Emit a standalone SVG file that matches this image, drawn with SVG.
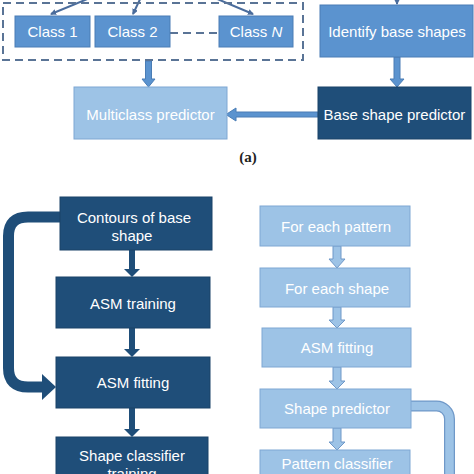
<svg xmlns="http://www.w3.org/2000/svg" width="474" height="474" viewBox="0 0 474 474">
<style>
.t{font-family:"Liberation Sans",Arial,sans-serif;font-size:15px;fill:#ffffff;text-anchor:middle}
.mid{fill:#5b93cf;stroke:#4a7db5;stroke-width:1}
.dark{fill:#1f4e79;stroke:#1a4268;stroke-width:1}
.light{fill:#9dc3e6;stroke:#7fa7d3;stroke-width:1}
.la{fill:#9dc3e6;stroke:#6f98c8;stroke-width:1}
.ma{fill:#5b93cf;stroke:#4a7db5;stroke-width:1}
.da{fill:#1f4e79}
</style>
<defs>
<marker id="sm" markerWidth="6" markerHeight="6" refX="5" refY="3" orient="auto" markerUnits="userSpaceOnUse">
<path d="M0,0 L6,3 L0,6 Z" fill="#4a6c9c"/>
</marker>
</defs>
<rect width="474" height="474" fill="#ffffff"/>
<g id="connectors">
<line x1="153" y1="-28" x2="51" y2="14" stroke="#4a6c9c" stroke-width="2" marker-end="url(#sm)"/>
<line x1="153" y1="-28" x2="133" y2="14" stroke="#4a6c9c" stroke-width="2" marker-end="url(#sm)"/>
<line x1="153" y1="-28" x2="253" y2="14" stroke="#4a6c9c" stroke-width="2" marker-end="url(#sm)"/>
<line x1="170" y1="33" x2="219" y2="33" stroke="#5a7496" stroke-width="2" stroke-dasharray="8,5"/>
<line x1="397" y1="-6" x2="397" y2="4" stroke="#4a6c9c" stroke-width="2" marker-end="url(#sm)"/>
<polygon class="ma" points="145.5,61 151.5,61 151.5,79 155,79 148.5,87 142,79 145.5,79"/>
<polygon class="ma" points="394,57 400,57 400,79 404,79 397,87 390,79 394,79"/>
<polygon class="ma" points="318,112 236,112 236,108 226,114.5 236,121 236,117 318,117"/>
<polygon class="da" points="129,250 135,250 135,269 140,269 132,277 124,269 129,269"/>
<polygon class="da" points="129,328 135,328 135,349 140,349 132,357 124,349 129,349"/>
<polygon class="da" points="129,408 135,408 135,429 140,429 132,437 124,429 129,429"/>
<path d="M60,217 H28 Q8.5,217 8.5,236 V368 Q8.5,387 28,387 H43" fill="none" stroke="#1f4e79" stroke-width="11"/>
<polygon class="da" points="42,374 56,387 42,400"/>
<polygon class="la" points="333,246 341,246 341,259 345,259 337,268 329,259 333,259"/>
<polygon class="la" points="333,307 341,307 341,320 345,320 337,328 329,320 333,320"/>
<polygon class="la" points="333,367 341,367 341,381 345,381 337,389 329,381 333,381"/>
<polygon class="la" points="333,428 341,428 341,442 345,442 337,450 329,442 333,442"/>
<path d="M410,406 H436 A13,13 0 0 1 449.5,419 V480" fill="none" stroke="#6f98c8" stroke-width="11"/>
<path d="M410,406 H436 A13,13 0 0 1 449.5,419 V480" fill="none" stroke="#9dc3e6" stroke-width="8.5"/>
</g>
<g id="group-classes">
<rect x="3" y="3" width="300" height="57" fill="none" stroke="#5a7496" stroke-width="2" stroke-dasharray="8,5"/>
</g>
<g id="class1"><rect class="mid" x="15" y="16" width="75" height="31"/><text class="t" x="52.5" y="37">Class 1</text></g>
<g id="class2"><rect class="mid" x="95" y="16" width="75" height="31"/><text class="t" x="132.5" y="37">Class 2</text></g>
<g id="classN"><rect class="mid" x="219" y="16" width="74" height="31"/><text class="t" x="256" y="37">Class <tspan font-style="italic">N</tspan></text></g>
<g id="identify"><rect class="mid" x="320" y="5" width="153" height="52"/><text class="t" x="397" y="36.5">Identify base shapes</text></g>
<g id="multiclass"><rect class="light" x="74" y="87" width="153" height="52"/><text class="t" x="150.5" y="119.5">Multiclass predictor</text></g>
<g id="baseshape"><rect class="dark" x="318" y="87" width="153" height="52"/><text class="t" x="394.5" y="119.5">Base shape predictor</text></g>
<text x="248" y="162" font-family="Liberation Serif,'Times New Roman',serif" font-size="15" font-weight="bold" text-anchor="middle" fill="#222222">(a)</text>
<g id="contours"><rect class="dark" x="60" y="197" width="152" height="53"/><text class="t" x="134" y="222.5">Contours of base</text><text class="t" x="132" y="240.5">shape</text></g>
<g id="asmtraining"><rect class="dark" x="56" y="277" width="154" height="51"/><text class="t" x="133" y="309">ASM training</text></g>
<g id="asmfitting1"><rect class="dark" x="56" y="357" width="154" height="51"/><text class="t" x="133" y="388">ASM fitting</text></g>
<g id="shapeclassifier"><rect class="dark" x="56" y="437" width="152" height="60"/><text class="t" x="132" y="461">Shape classifier</text><text class="t" x="132" y="479">training</text></g>
<g id="eachpattern"><rect class="light" x="260" y="206" width="150" height="40"/><text class="t" x="336" y="231.5">For each pattern</text></g>
<g id="eachshape"><rect class="light" x="260" y="268" width="150" height="39"/><text class="t" x="337" y="294">For each shape</text></g>
<g id="asmfitting2"><rect class="light" x="262" y="328" width="149" height="39"/><text class="t" x="337" y="353">ASM fitting</text></g>
<g id="shapepredictor"><rect class="light" x="260" y="389" width="151" height="39"/><text class="t" x="337" y="414">Shape predictor</text></g>
<g id="patternclassifier"><rect class="light" x="260" y="450" width="150" height="40"/><text class="t" x="337" y="468.5">Pattern classifier</text></g>
</svg>
